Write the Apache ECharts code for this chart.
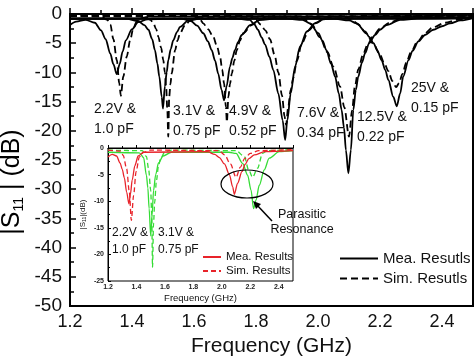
<!DOCTYPE html>
<html><head><meta charset="utf-8">
<script src="https://cdn.jsdelivr.net/npm/echarts@6/dist/echarts.min.js"></script>
<style>html,body{margin:0;padding:0;background:#fff}#c{width:474px;height:362px}</style>
</head><body><div id="c"></div>
<script>
// ---------- data (frequency GHz, |S11| dB) ----------
const mea22 = [[1.2,-1.9],[1.22,-1.3],[1.25,-1.0],[1.28,-1.5],[1.3,-2.8],[1.315,-4.3],[1.33,-6.8],[1.34,-8.6],[1.351,-10.3],[1.36,-8.6],[1.37,-6.4],[1.38,-4.5],[1.4,-2.6],[1.42,-1.4],[1.45,-0.9],[1.55,-0.8],[2.5,-0.7]];
const sim22 = [[1.2,-0.3],[1.3,-0.4],[1.32,-1.0],[1.33,-1.8],[1.34,-4.3],[1.351,-7.9],[1.359,-11.9],[1.364,-14.0],[1.372,-10.7],[1.383,-7.3],[1.394,-4.5],[1.404,-2.5],[1.415,-1.3],[1.43,-0.7],[1.46,-0.4],[2.5,-0.3]];
const mea31 = [[1.2,-0.8],[1.38,-0.8],[1.42,-1.2],[1.44,-1.9],[1.453,-2.7],[1.465,-4.3],[1.474,-6.2],[1.482,-8.5],[1.488,-10.7],[1.496,-14.2],[1.5,-16.2],[1.506,-12.4],[1.512,-10.0],[1.517,-7.9],[1.525,-6.0],[1.533,-4.5],[1.545,-3.1],[1.555,-2.2],[1.582,-1.1],[1.62,-0.8],[2.5,-0.7]];
const sim31 = [[1.2,-0.3],[1.44,-0.4],[1.46,-1.0],[1.469,-1.6],[1.478,-2.6],[1.485,-3.9],[1.494,-5.8],[1.501,-7.9],[1.506,-10.0],[1.51,-12.4],[1.514,-16.4],[1.517,-21.0],[1.52,-14.2],[1.524,-12.0],[1.528,-10.2],[1.539,-6.2],[1.547,-4.5],[1.555,-3.3],[1.571,-1.9],[1.59,-1.0],[1.62,-0.5],[2.5,-0.3]];
const mea49 = [[1.2,-0.8],[1.56,-0.8],[1.59,-1.2],[1.61,-2.0],[1.63,-3.3],[1.645,-4.7],[1.657,-6.2],[1.668,-8.0],[1.678,-10.2],[1.689,-13.0],[1.697,-14.8],[1.705,-12.4],[1.716,-9.0],[1.724,-7.5],[1.732,-6.2],[1.742,-4.8],[1.754,-3.6],[1.781,-1.9],[1.813,-1.0],[1.86,-0.8],[2.5,-0.7]];
const sim49 = [[1.2,-0.3],[1.6,-0.4],[1.62,-1.0],[1.63,-1.6],[1.645,-2.6],[1.662,-3.9],[1.674,-5.5],[1.684,-7.3],[1.691,-9.5],[1.697,-11.9],[1.703,-15.9],[1.706,-18.5],[1.711,-14.2],[1.716,-12.0],[1.722,-10.2],[1.73,-8.0],[1.738,-6.2],[1.748,-4.6],[1.759,-3.3],[1.786,-1.9],[1.81,-1.0],[1.84,-0.5],[2.5,-0.3]];
const mea76 = [[1.2,-0.8],[1.74,-0.8],[1.78,-1.0],[1.795,-1.8],[1.806,-2.7],[1.818,-4.0],[1.829,-5.2],[1.843,-7.3],[1.856,-9.6],[1.872,-13.6],[1.886,-18.2],[1.894,-21.6],[1.901,-18.2],[1.912,-13.6],[1.926,-9.0],[1.942,-5.6],[1.964,-3.0],[1.99,-1.6],[2.017,-0.9],[2.06,-0.8],[2.5,-0.7]];
const sim76 = [[1.2,-0.3],[1.78,-0.4],[1.8,-1.0],[1.815,-1.8],[1.83,-2.8],[1.845,-4.3],[1.86,-7.0],[1.872,-10.0],[1.884,-14.0],[1.892,-17.5],[1.897,-19.0],[1.904,-15.9],[1.912,-13.0],[1.92,-11.0],[1.932,-8.0],[1.948,-5.0],[1.97,-2.8],[1.995,-1.5],[2.02,-0.8],[2.06,-0.4],[2.5,-0.3]];
const mea125 = [[1.2,-0.8],[1.9,-0.8],[1.95,-1.0],[1.974,-1.6],[2.001,-3.3],[2.015,-4.6],[2.027,-6.2],[2.042,-8.5],[2.055,-10.7],[2.067,-13.6],[2.076,-16.4],[2.084,-19.5],[2.09,-23.3],[2.098,-27.3],[2.106,-23.3],[2.114,-16.4],[2.122,-13.0],[2.13,-10.7],[2.142,-8.3],[2.152,-6.7],[2.165,-5.0],[2.184,-3.6],[2.2,-2.7],[2.221,-1.9],[2.265,-1.0],[2.32,-0.8],[2.5,-0.7]];
const sim125 = [[1.2,-0.3],[1.93,-0.4],[1.96,-1.0],[1.98,-1.8],[2.006,-4.0],[2.03,-6.5],[2.05,-9.0],[2.071,-12.4],[2.085,-16.0],[2.1,-21.0],[2.11,-16.5],[2.119,-12.4],[2.13,-9.5],[2.145,-7.0],[2.16,-5.2],[2.18,-3.6],[2.2,-2.5],[2.23,-1.5],[2.27,-0.7],[2.32,-0.4],[2.5,-0.3]];
const mea25 = [[1.2,-0.8],[2.05,-0.8],[2.1,-1.1],[2.125,-1.6],[2.152,-3.0],[2.165,-3.9],[2.179,-5.0],[2.192,-6.3],[2.205,-7.9],[2.217,-9.6],[2.227,-11.3],[2.243,-14.2],[2.254,-15.8],[2.265,-13.6],[2.275,-10.7],[2.292,-7.9],[2.305,-6.3],[2.324,-4.7],[2.345,-3.6],[2.372,-2.7],[2.4,-2.1],[2.426,-1.6],[2.46,-1.1],[2.5,-0.7]];
const sim25 = [[1.2,-0.3],[2.08,-0.4],[2.11,-1.0],[2.13,-1.8],[2.155,-3.3],[2.18,-5.2],[2.2,-7.0],[2.215,-8.6],[2.227,-9.8],[2.24,-11.5],[2.252,-12.5],[2.262,-11.8],[2.272,-10.3],[2.285,-8.3],[2.3,-6.5],[2.32,-4.8],[2.345,-3.3],[2.37,-2.3],[2.41,-1.5],[2.45,-1.0],[2.5,-0.6]];

// inset curves (with parasitic resonance)
const insetMea22 = [[1.2,-1.7],[1.23,-1.2],[1.26,-1.5],[1.285,-2.8],[1.3,-4.0],[1.315,-5.6],[1.331,-8.3],[1.347,-10.5],[1.358,-8.6],[1.37,-6.0],[1.389,-3.3],[1.412,-1.5],[1.45,-0.8],[1.9,-0.7],[1.95,-1.2],[1.983,-1.8],[2.018,-3.0],[2.053,-5.0],[2.076,-7.3],[2.088,-8.7],[2.111,-6.6],[2.142,-4.4],[2.163,-3.1],[2.19,-2.0],[2.228,-1.3],[2.3,-0.7],[2.5,-0.5]];
const insetSim22 = [[1.2,-0.4],[1.29,-0.6],[1.307,-1.4],[1.331,-3.9],[1.35,-8.3],[1.364,-13.6],[1.38,-8.9],[1.397,-4.5],[1.42,-1.7],[1.45,-0.8],[1.5,-0.4],[1.98,-0.5],[2.02,-1.3],[2.06,-3.0],[2.1,-5.5],[2.13,-3.6],[2.16,-2.0],[2.2,-1.0],[2.26,-0.5],[2.5,-0.3]];
const insetMea31 = [[1.2,-0.8],[1.42,-0.9],[1.45,-1.8],[1.47,-5.1],[1.48,-7.5],[1.489,-11.4],[1.5,-16.5],[1.51,-12.5],[1.52,-8.0],[1.535,-5.0],[1.555,-2.8],[1.587,-1.5],[1.645,-0.8],[2.05,-0.8],[2.1,-1.0],[2.146,-2.9],[2.181,-5.1],[2.205,-7.9],[2.223,-11.4],[2.24,-9.8],[2.263,-7.0],[2.298,-4.1],[2.333,-1.9],[2.403,-0.7],[2.5,-0.5]];
const insetSim31 = [[1.2,-0.4],[1.44,-0.5],[1.47,-1.6],[1.485,-3.9],[1.5,-7.9],[1.507,-12.4],[1.513,-22.4],[1.52,-14.2],[1.528,-10.2],[1.54,-6.2],[1.555,-3.3],[1.57,-1.9],[1.6,-0.7],[1.65,-0.4],[2.1,-0.5],[2.158,-1.6],[2.188,-4.1],[2.216,-5.5],[2.251,-3.8],[2.286,-1.0],[2.32,-0.5],[2.5,-0.3]];

const mainLegend = ['Mea. Resutls', 'Sim. Resutls'];
const insetLegend = ['Mea. Results', 'Sim. Results'];
const mainLabels = [['2.2V &','1.0 pF'],['3.1V &','0.75 pF'],['4.9V &','0.52 pF'],['7.6V &','0.34 pF'],['12.5V &','0.22 pF'],['25V &','0.15 pF']];
const insetLabels = [['2.2V &','1.0 pF'],['3.1V &','0.75 pF']];
const parasiticLabel = ['Parasitic','Resonance'];

// ---------- chart ----------
const FONT = 'Liberation Sans, Arial, sans-serif';
const RED = '#e8232a', GREEN = '#35dc35';
const chart = echarts.init(document.getElementById('c'), null, {renderer: 'canvas'});

function line(name, data, color, dashed, idx, width, dash) {
  return {
    type: 'line', name, data, xAxisIndex: idx, yAxisIndex: idx,
    symbol: 'none', smooth: 0.3, smoothMonotone: 'x',
    lineStyle: {color, width, type: dashed ? dash : 'solid'},
    itemStyle: {color}, z: idx === 1 ? 10 : 2
  };
}
const mainDash = [7, 4], insetDash = [5, 3];
const series = [
  ...[mea22, mea31, mea49, mea76, mea125, mea25].map(d => line(mainLegend[0], d, '#000', false, 0, 1.8)),
  ...[sim22, sim31, sim49, sim76, sim125, sim25].map(d => line(mainLegend[1], d, '#000', true, 0, 1.8, mainDash)),
  line('g31m', insetMea31, GREEN, false, 1, 1.3),
  line('g31s', insetSim31, GREEN, true, 1, 1.3, insetDash),
  line(insetLegend[0], insetMea22, RED, false, 1, 1.3),
  line(insetLegend[1], insetSim22, RED, true, 1, 1.3, insetDash)
];

const mainPos = [[94,108],[173,110],[229,110],[297,112],[357,116],[411,87]];
const insetPos = [[112,232],[158,232]];
const graphics = [];
mainLabels.forEach((l, i) => {
  graphics.push({type: 'text', x: mainPos[i][0], y: mainPos[i][1], z: 20,
    style: {text: l.join('\n'), font: '14px ' + FONT, fill: '#111', lineHeight: 20, verticalAlign: 'top', y: -9}});
});
insetLabels.forEach((l, i) => {
  graphics.push({type: 'text', x: insetPos[i][0], y: insetPos[i][1] - 8, z: 20,
    style: {text: l.join('\n'), font: '12px ' + FONT, fill: '#111', lineHeight: 17}});
});
graphics.push({type: 'text', x: 302, y: 207, z: 20,
  style: {text: parasiticLabel.join('\n'), font: '12.5px ' + FONT, fill: '#111', lineHeight: 15, align: 'center'}});
graphics.push({type: 'ellipse', shape: {cx: 247, cy: 184, rx: 26, ry: 14}, z: 20,
  style: {fill: 'none', stroke: '#000', lineWidth: 1.2}});
graphics.push({type: 'line', shape: {x1: 272, y1: 221, x2: 256, y2: 204}, z: 20,
  style: {stroke: '#000', lineWidth: 1.5}});
graphics.push({type: 'polygon', shape: {points: [[253, 201], [261, 204], [256, 209]]}, z: 20,
  style: {fill: '#000'}});
graphics.push({type: 'text', x: 12, y: 182, rotation: Math.PI / 2, z: 20,
  style: {text: '|S{s|11} | (dB)', font: '25px ' + FONT, fill: '#000', align: 'center', verticalAlign: 'middle',
    rich: {s: {fontSize: 14, fontFamily: FONT, padding: [14, 0, 0, 0]}}}});

const option = {
  animation: false,
  backgroundColor: '#fff',
  textStyle: {fontFamily: FONT},
  grid: [
    {left: 70, right: 1, top: 14, bottom: 56, show: true, borderColor: '#000', borderWidth: 2, backgroundColor: 'transparent'},
    {left: 108, right: 181, top: 148, bottom: 81, show: true, borderColor: '#000', borderWidth: 1, backgroundColor: '#fff', z: 5}
  ],
  xAxis: [
    {type: 'value', gridIndex: 0, min: 1.2, max: 2.5, interval: 0.2,
      axisLine: {lineStyle: {color: '#000', width: 2}},
      axisTick: {inside: true, length: 6, lineStyle: {color: '#000', width: 1.5}},
      minorTick: {show: true, splitNumber: 2, length: 4, lineStyle: {color: '#000', width: 1.5}},
      splitLine: {show: false},
      axisLabel: {fontSize: 18, color: '#111', margin: 7, showMaxLabel: false, formatter: v => v.toFixed(1)},
      name: 'Frequency (GHz)', nameLocation: 'middle', nameGap: 30,
      nameTextStyle: {fontSize: 21, color: '#111'}},
    {type: 'value', gridIndex: 1, min: 1.2, max: 2.5, interval: 0.2, z: 6,
      axisLine: {lineStyle: {color: '#000', width: 1}},
      axisTick: {inside: true, length: 3, lineStyle: {color: '#000'}},
      minorTick: {show: true, splitNumber: 2, length: 2, lineStyle: {color: '#000'}},
      splitLine: {show: false},
      axisLabel: {fontSize: 7, fontWeight: 'bold', color: '#222', margin: 3, showMaxLabel: false, formatter: v => v.toFixed(1)},
      name: 'Frequency (GHz)', nameLocation: 'middle', nameGap: 12,
      nameTextStyle: {fontSize: 9.5, color: '#111'}}
  ],
  yAxis: [
    {type: 'value', gridIndex: 0, min: -50, max: 0, interval: 5,
      axisLine: {lineStyle: {color: '#000', width: 2}},
      axisTick: {inside: true, length: 6, lineStyle: {color: '#000', width: 1.5}},
      minorTick: {show: true, splitNumber: 2, length: 4, lineStyle: {color: '#000', width: 1.5}},
      splitLine: {show: false},
      axisLabel: {fontSize: 19, color: '#111', margin: 8, padding: [0, 0, 12, 0]}},
    {type: 'value', gridIndex: 1, min: -25, max: 0, interval: 5, z: 6,
      axisLine: {lineStyle: {color: '#000', width: 1}},
      axisTick: {inside: true, length: 3, lineStyle: {color: '#000'}},
      minorTick: {show: true, splitNumber: 2, length: 2, lineStyle: {color: '#000'}},
      splitLine: {show: false},
      axisLabel: {fontSize: 7, fontWeight: 'bold', color: '#222', margin: 4, padding: [0, 0, 6, 0]},
      name: '|S{s|11}|(dB)', nameLocation: 'middle', nameGap: 21,
      nameTextStyle: {fontSize: 8, color: '#111', rich: {s: {fontSize: 5, padding: [4, 0, 0, 0]}}}}
  ],
  legend: [
    {data: mainLegend, orient: 'vertical', left: 334, top: 246, itemWidth: 38, itemHeight: 14, itemGap: 5,
      itemStyle: {opacity: 0}, textStyle: {fontSize: 15, color: '#111'}},
    {data: insetLegend, orient: 'vertical', left: 197, top: 246, itemWidth: 18, itemHeight: 11, itemGap: 2, z: 12,
      itemStyle: {opacity: 0}, textStyle: {fontSize: 11.5, color: '#111'}}
  ],
  series,
  graphic: graphics
};
chart.setOption(option);
</script></body></html>
